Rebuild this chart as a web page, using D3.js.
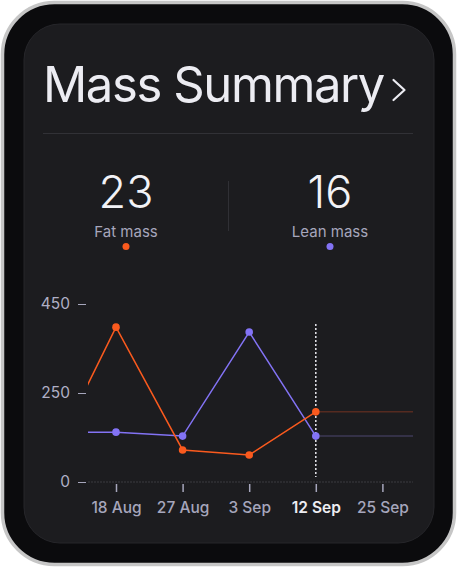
<!DOCTYPE html>
<html>
<head>
<meta charset="utf-8">
<script src="https://cdn.jsdelivr.net/npm/d3@7"></script>
<style>
  html, body { margin: 0; padding: 0; background: #fff; }
  svg { display: block; font-family: Inter, "Noto Sans", sans-serif; }
</style>
</head>
<body>
<svg id="chart" width="457" height="567"></svg>
<script>
// data
const dates = ["9 Aug", "18 Aug", "27 Aug", "3 Sep", "12 Sep", "25 Sep", "5 Oct"];
const shownDates = ["18 Aug", "27 Aug", "3 Sep", "12 Sep", "25 Sep"];
const fatMass = [55, 398, 90, 76, 197];
const leanMass = [140, 140, 129, 387, 129];
const yTicks = [0, 250, 450];
const selectedDate = "12 Sep";
const summary = [
  {label: "Fat mass", value: 23, color: "#fa5a1e"},
  {label: "Lean mass", value: 16, color: "#8373f5"}
];

const orange = "#fa5a1e", purple = "#8373f5";
const svg = d3.select("#chart");

// frame + card
svg.append("rect").attr("x", 2.5).attr("y", 2.5).attr("width", 452).attr("height", 562)
    .attr("rx", 52).attr("fill", "#0b0b0d").attr("stroke", "#c6c6c6").attr("stroke-width", 3.5);
svg.append("rect").attr("x", 24).attr("y", 24).attr("width", 410).attr("height", 519)
    .attr("rx", 36).attr("fill", "#1c1c1f").attr("stroke", "#26262a");

// title
svg.append("text").attr("x", 43).attr("y", 102)
    .attr("font-size", 49).attr("font-weight", 400).attr("fill", "#ececf2")
    .attr("letter-spacing", -1.4)
    .text("Mass Summary");
svg.append("path").attr("d", "M393.5,80 L404.5,90 L393.5,100")
    .attr("fill", "none").attr("stroke", "#ececf2").attr("stroke-width", 2.2)
    .attr("stroke-linecap", "round").attr("stroke-linejoin", "round");

svg.append("line").attr("x1", 43).attr("x2", 413).attr("y1", 133.5).attr("y2", 133.5)
    .attr("stroke", "#313136").attr("stroke-width", 1);

// summary values
const sx = d3.scalePoint().domain(summary.map(d => d.label)).range([126, 330]);
const g = svg.append("g").selectAll("g").data(summary).join("g")
    .attr("transform", d => `translate(${sx(d.label)},0)`);
g.append("text").attr("y", 208).attr("text-anchor", "middle")
    .attr("font-size", 45).attr("font-weight", 300).attr("fill", "#f2f2f6")
    .text(d => d.value);
g.append("text").attr("y", 237).attr("text-anchor", "middle")
    .attr("font-size", 15).attr("fill", "#a6a6bc")
    .text(d => d.label);
g.append("circle").attr("cy", 246.5).attr("r", 3.5).attr("fill", d => d.color);
svg.append("line").attr("x1", 228.5).attr("x2", 228.5).attr("y1", 181).attr("y2", 231)
    .attr("stroke", "#303035");

// chart
const plotLeft = 88, plotRight = 413;
const x = d3.scalePoint().domain(dates).range([49.4, 449]);
const y = d3.scaleLinear().domain([0, 250, 450]).range([482, 393, 304]);

svg.append("defs").append("clipPath").attr("id", "plot")
    .append("rect").attr("x", plotLeft).attr("y", 290).attr("width", plotRight - plotLeft).attr("height", 200);

// baseline
svg.append("line").attr("x1", plotLeft).attr("x2", plotRight).attr("y1", y(0)).attr("y2", y(0))
    .attr("stroke", "#3a3a40").attr("stroke-dasharray", "2,1");

// y axis
const yAxis = svg.append("g").attr("transform", `translate(${plotLeft - 2},0)`)
    .call(d3.axisLeft(y).tickValues(yTicks).tickSize(8).tickPadding(8));
yAxis.select(".domain").remove();
yAxis.selectAll(".tick line").attr("stroke", "#a6a6bc");
yAxis.selectAll(".tick text").attr("fill", "#b0b0c6").attr("font-size", 15.5)
    .attr("font-family", "Inter, sans-serif");

// x axis
const xAxis = svg.append("g").attr("transform", `translate(0,${y(0) + 2})`)
    .call(d3.axisBottom(x).tickValues(shownDates).tickSize(8).tickPadding(10));
xAxis.select(".domain").remove();
xAxis.selectAll(".tick line").attr("stroke", "#a6a6bc").attr("stroke-width", 1.5);
xAxis.selectAll(".tick text").attr("font-size", 15.5).attr("font-family", "Inter, sans-serif")
    .attr("fill", d => d === selectedDate ? "#ededf2" : "#a6a6bc")
    .attr("font-weight", d => d === selectedDate ? 600 : 500);

// selection rule
svg.append("line").attr("x1", x(selectedDate)).attr("x2", x(selectedDate))
    .attr("y1", 324).attr("y2", 477)
    .attr("stroke", "#e8e8ee").attr("stroke-width", 1.5).attr("stroke-dasharray", "2,2");

const plot = svg.append("g").attr("clip-path", "url(#plot)");
const line = d3.line().x(d => x(d.date)).y(d => y(d.v));

function drawSeries(values, color, dim) {
  const pts = values.map((v, i) => ({date: dates[i], v}));
  const last = pts[pts.length - 1];
  plot.append("path")
      .attr("d", line([last, {date: dates[dates.length - 1], v: last.v}]))
      .attr("fill", "none").attr("stroke", dim).attr("stroke-width", 1.5);
  plot.append("path").attr("d", line(pts))
      .attr("fill", "none").attr("stroke", color).attr("stroke-width", 1.5);
  plot.selectAll(null).data(pts.slice(1)).join("circle")
      .attr("cx", d => x(d.date)).attr("cy", d => y(d.v)).attr("r", 3.8).attr("fill", color);
}
drawSeries(leanMass, purple, "#3d3856");
drawSeries(fatMass, orange, "#552a20");
</script>
</body>
</html>
